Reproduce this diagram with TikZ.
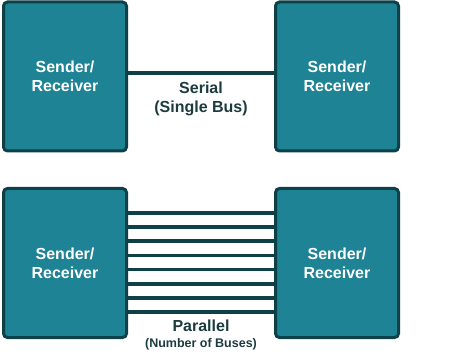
\documentclass[tikz,border=0pt]{standalone}
\usepackage{fontspec}
\setmainfont{Liberation Sans}
\usepackage{tikz}
\usetikzlibrary{positioning,calc}
\definecolor{busteal}{RGB}{30,131,148}
\definecolor{busdark}{RGB}{14,64,72}
\definecolor{labeldark}{RGB}{28,59,64}

\tikzset{
    unitbox/.style={
        draw=busdark,
        fill=busteal,
        line width=3pt,
        rounded corners=4pt,
        minimum width=123pt,
        minimum height=149pt,
        text=white,
        align=center,
        font=\fontsize{16}{19}\selectfont\bfseries
    },
    busline/.style={draw=busdark, line width=3.6pt},
    buslabel/.style={text=labeldark, align=center, font=\fontsize{16}{19}\selectfont\bfseries}
}

\begin{document}
\begin{tikzpicture}[x=1pt,y=1pt]
\useasboundingbox (0,0) rectangle (474,362);

% serial
\node[unitbox] (s1) at (65,285.5) {Sender/\\Receiver};
\node[unitbox, right=146pt of s1] (s2) {Sender/\\Receiver};
\draw[busline] ([yshift=3.5pt]s1.east) -- ([yshift=3.5pt]s2.west)
    node[midway, below=4pt, buslabel] (serial) {Serial\\(Single Bus)};

% parallel
\node[unitbox] (p1) at (65,99) {Sender/\\Receiver};
\node[unitbox, right=146pt of p1] (p2) {Sender/\\Receiver};
\foreach \i in {0,...,7}
    \draw[busline] ([yshift={50pt-\i*14.14pt}]p1.east) -- ([yshift={50pt-\i*14.14pt}]p2.west);
\node[buslabel, anchor=north] (parallel) at ($(p1.east)!0.5!(p2.west)+(0,-53)$)
    {Parallel\\[-3pt]{\fontsize{12.5}{14}\selectfont(Number of Buses)}};
\end{tikzpicture}
\end{document}
